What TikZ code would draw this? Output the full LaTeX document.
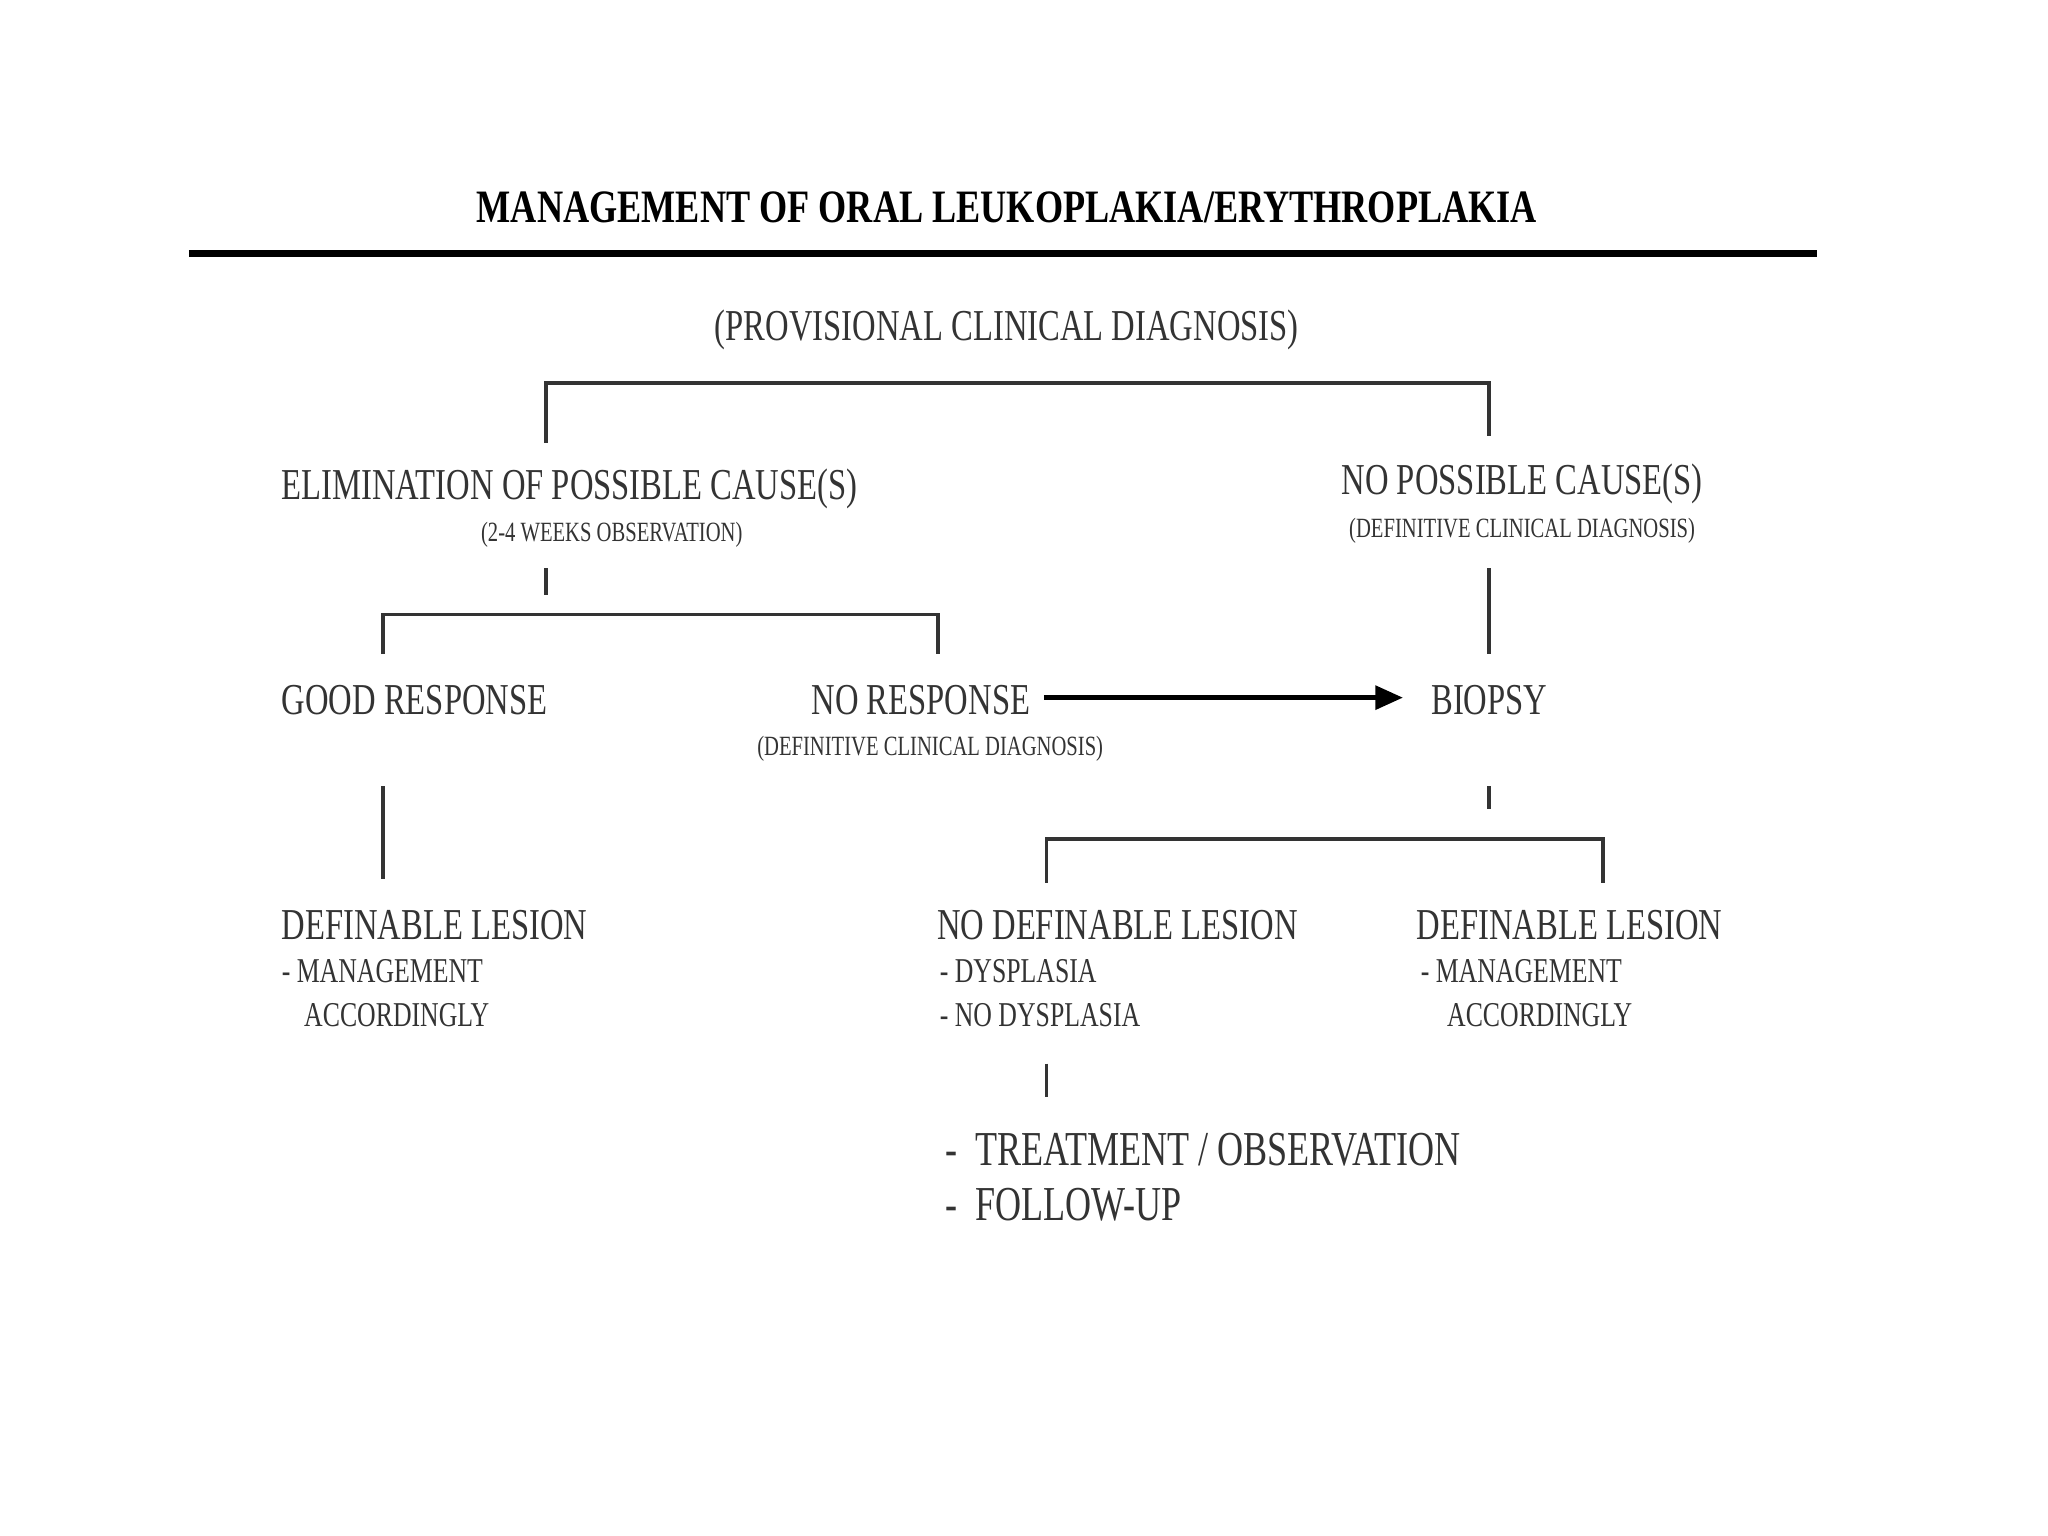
\documentclass[tikz,border=0pt]{standalone}
\usepackage{fontspec}
\setmainfont{Liberation Serif}
\usetikzlibrary{arrows.meta}
\begin{document}
\begin{tikzpicture}[x=0.02cm,y=-0.02cm,
  lbl/.style={inner sep=0pt,text=black!80,font=\fontsize{19}{20}\selectfont,xscale=0.74,transform shape},
  sub/.style={inner sep=0pt,text=black!80,font=\fontsize{12}{13}\selectfont,xscale=0.74,transform shape},
  big/.style={inner sep=0pt,text=black!80,font=\fontsize{21}{22}\selectfont,xscale=0.74,transform shape},
  ln/.style={line width=1.6pt,black!80}]
\useasboundingbox (0,0) rectangle (1550,1162);
\node[inner sep=0pt,font=\bfseries\fontsize{20}{22}\selectfont,xscale=0.78,transform shape] (title) at (762,157) {MANAGEMENT OF ORAL LEUKOPLAKIA/ERYTHROPLAKIA};
\draw[line width=3pt] (143,192) coordinate (r1) -- (1375,192) coordinate (r2);
\node[lbl] (prov) at (762,250) {(PROVISIONAL CLINICAL DIAGNOSIS)};
\coordinate (b1l) at (413,335); \coordinate (b1r) at (1127,330);
\draw[ln] (b1l) -- (413,290) -- (1127,290) -- (b1r);
\node[lbl,anchor=west] (elim) at (213,370) {ELIMINATION OF POSSIBLE CAUSE(S)};
\node[sub] (weeks) at (463,405) {(2-4 WEEKS OBSERVATION)};
\node[lbl] (nopc) at (1152,366) {NO POSSIBLE CAUSE(S)};
\node[sub] (defc1) at (1152,402) {(DEFINITIVE CLINICAL DIAGNOSIS)};
\coordinate (e1) at (413,430); \coordinate (e2) at (413,450);
\draw[ln] (e1) -- (e2);
\coordinate (b2l) at (290,495); \coordinate (b2r) at (710,495);
\draw[ln] (b2l) -- (290,465) -- (710,465) -- (b2r);
\coordinate (n1) at (1127,430); \coordinate (n2) at (1127,495);
\draw[ln] (n1) -- (n2);
\node[lbl,anchor=west] (good) at (213,530) {GOOD RESPONSE};
\node[lbl] (nores) at (697,530) {NO RESPONSE};
\node[sub] (defc2) at (704,567) {(DEFINITIVE CLINICAL DIAGNOSIS)};
\node[lbl,anchor=west] (biopsy) at (1083,530) {BIOPSY};
\draw[line width=2.4pt,-{Triangle[length=12pt,width=10pt]}] (nores.east) ++(10,-2) -- ([xshift=-12pt]biopsy.west |- 0,528);
\coordinate (g1) at (290,595); \coordinate (g2) at (290,665);
\draw[ln] (g1) -- (g2);
\coordinate (p1) at (1127,595); \coordinate (p2) at (1127,612);
\draw[ln] (p1) -- (p2);
\coordinate (b3l) at (792,668); \coordinate (b3r) at (1213,668);
\draw[ln] (b3l) -- (792,635) -- (1213,635) -- (b3r);
\node[lbl,anchor=west] (dl1) at (213,700) {DEFINABLE LESION};
\node[sub,anchor=west,font=\fontsize{15}{16}\selectfont] (m1) at (213,735) {- MANAGEMENT};
\node[sub,anchor=west,font=\fontsize{15}{16}\selectfont] (a1) at (230,768) {ACCORDINGLY};
\node[lbl,anchor=west] (ndl) at (709,700) {NO DEFINABLE LESION};
\node[sub,anchor=west,font=\fontsize{15}{16}\selectfont] (dys) at (711,735) {- DYSPLASIA};
\node[sub,anchor=west,font=\fontsize{15}{16}\selectfont] (ndys) at (711,768) {- NO DYSPLASIA};
\node[lbl,anchor=west] (dl2) at (1072,700) {DEFINABLE LESION};
\node[sub,anchor=west,font=\fontsize{15}{16}\selectfont] (m2) at (1075,735) {- MANAGEMENT};
\node[sub,anchor=west,font=\fontsize{15}{16}\selectfont] (a2) at (1095,768) {ACCORDINGLY};
\coordinate (t1) at (792,805); \coordinate (t2) at (792,830);
\draw[ln] (t1) -- (t2);
\node[big,anchor=west] (treat) at (715,870) {-\ \ TREATMENT / OBSERVATION};
\node[big,anchor=west] (fu) at (715,912) {-\ \ FOLLOW-UP};
\end{tikzpicture}
\end{document}
